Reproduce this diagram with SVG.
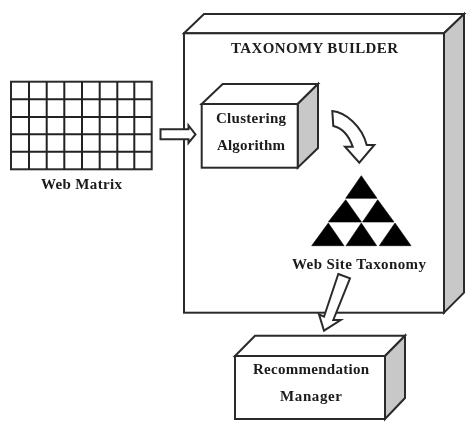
<svg xmlns="http://www.w3.org/2000/svg" width="474" height="428" viewBox="0 0 474 428">
<defs>
<filter id="soft" x="-5%" y="-5%" width="110%" height="110%"><feGaussianBlur stdDeviation="0.45"/></filter>
<style>
.box{fill:#fff;stroke:#2a2a2a;stroke-width:2;stroke-linejoin:miter}
.side{fill:#c8c8c8;stroke:#2a2a2a;stroke-width:2}
.grid{fill:none;stroke:#222;stroke-width:2}
.tri{fill:#000;stroke:#000;stroke-width:0.6}
.arrow{fill:#fff;stroke:#2a2a2a;stroke-width:2;stroke-linejoin:miter}
text{font-family:"Liberation Serif","Times New Roman",serif;font-weight:bold;font-size:15px;fill:#1a1a1a;text-anchor:middle}
</style>
</defs>
<rect width="474" height="428" fill="#fff"/>
<g filter="url(#soft)">
<g id="web-matrix">
<rect class="box" x="11" y="81.7" width="140.7" height="87.6"/>
<path class="grid" d="M29 81.7V169.3M46.7 81.7V169.3M64.3 81.7V169.3M82 81.7V169.3M99.7 81.7V169.3M117.3 81.7V169.3M134.3 81.7V169.3M11 99.3H151.7M11 117H151.7M11 134.3H151.7M11 151.7H151.7"/>
<text x="81.5" y="189" textLength="81" lengthAdjust="spacing">Web Matrix</text>
</g>
<g id="taxonomy-builder">
<path class="box" d="M184 33.3L204 14H464L444 33.3Z"/>
<path class="side" d="M444 33.3L464 14V292.7L444 312.7Z"/>
<rect class="box" x="184" y="33.3" width="260" height="279.4"/>
<text x="314.5" y="53" textLength="167" lengthAdjust="spacing">TAXONOMY BUILDER</text>
</g>
<g id="clustering-algorithm">
<path class="box" d="M201.7 104L222.7 84H318L297.7 104Z"/>
<path class="side" d="M297.7 104L318 84V148L297.7 167.7Z"/>
<rect class="box" x="201.7" y="104" width="96" height="63.7"/>
<text x="251" y="123" textLength="70" lengthAdjust="spacing">Clustering</text>
<text x="251" y="150" textLength="68" lengthAdjust="spacing">Algorithm</text>
</g>
<g id="web-site-taxonomy">
<path class="tri" d="M361.3 175.7L377 198.3H345.7ZM345.7 199.7L361.5 222H328.3ZM377.7 199.7L394 222H362.5ZM328.3 223L344 245.7H311.7ZM361.3 223L376.7 245.7H346ZM395 223L411 245.7H379.3Z"/>
<text x="359" y="269" textLength="134" lengthAdjust="spacing">Web Site Taxonomy</text>
</g>
<g id="recommendation-manager">
<path class="box" d="M235 356L255 335.7H405L385 356Z"/>
<path class="side" d="M385 356L405 335.7V398L385 419Z"/>
<rect class="box" x="235" y="356" width="150" height="63"/>
<text x="311" y="374" textLength="116" lengthAdjust="spacing">Recommendation</text>
<text x="311" y="401" textLength="62" lengthAdjust="spacing">Manager</text>
</g>
<g id="connectors">
<path class="arrow" d="M160.5 129.3H188.5V125.5L195.5 134.5L188.5 143V139.3H160.5Z"/>
<path class="arrow" d="M332.3 111C345 112 362 126 366.7 145H374.3L359.3 162.7L345 146.7H352.7C349 136 342 128 333.3 126Z"/>
<path class="arrow" d="M338.3 274L350 278.3L333.3 320L340.7 320L324 330.7L319 314.3L324 316.7Z"/>
</g>
</g>
</svg>
